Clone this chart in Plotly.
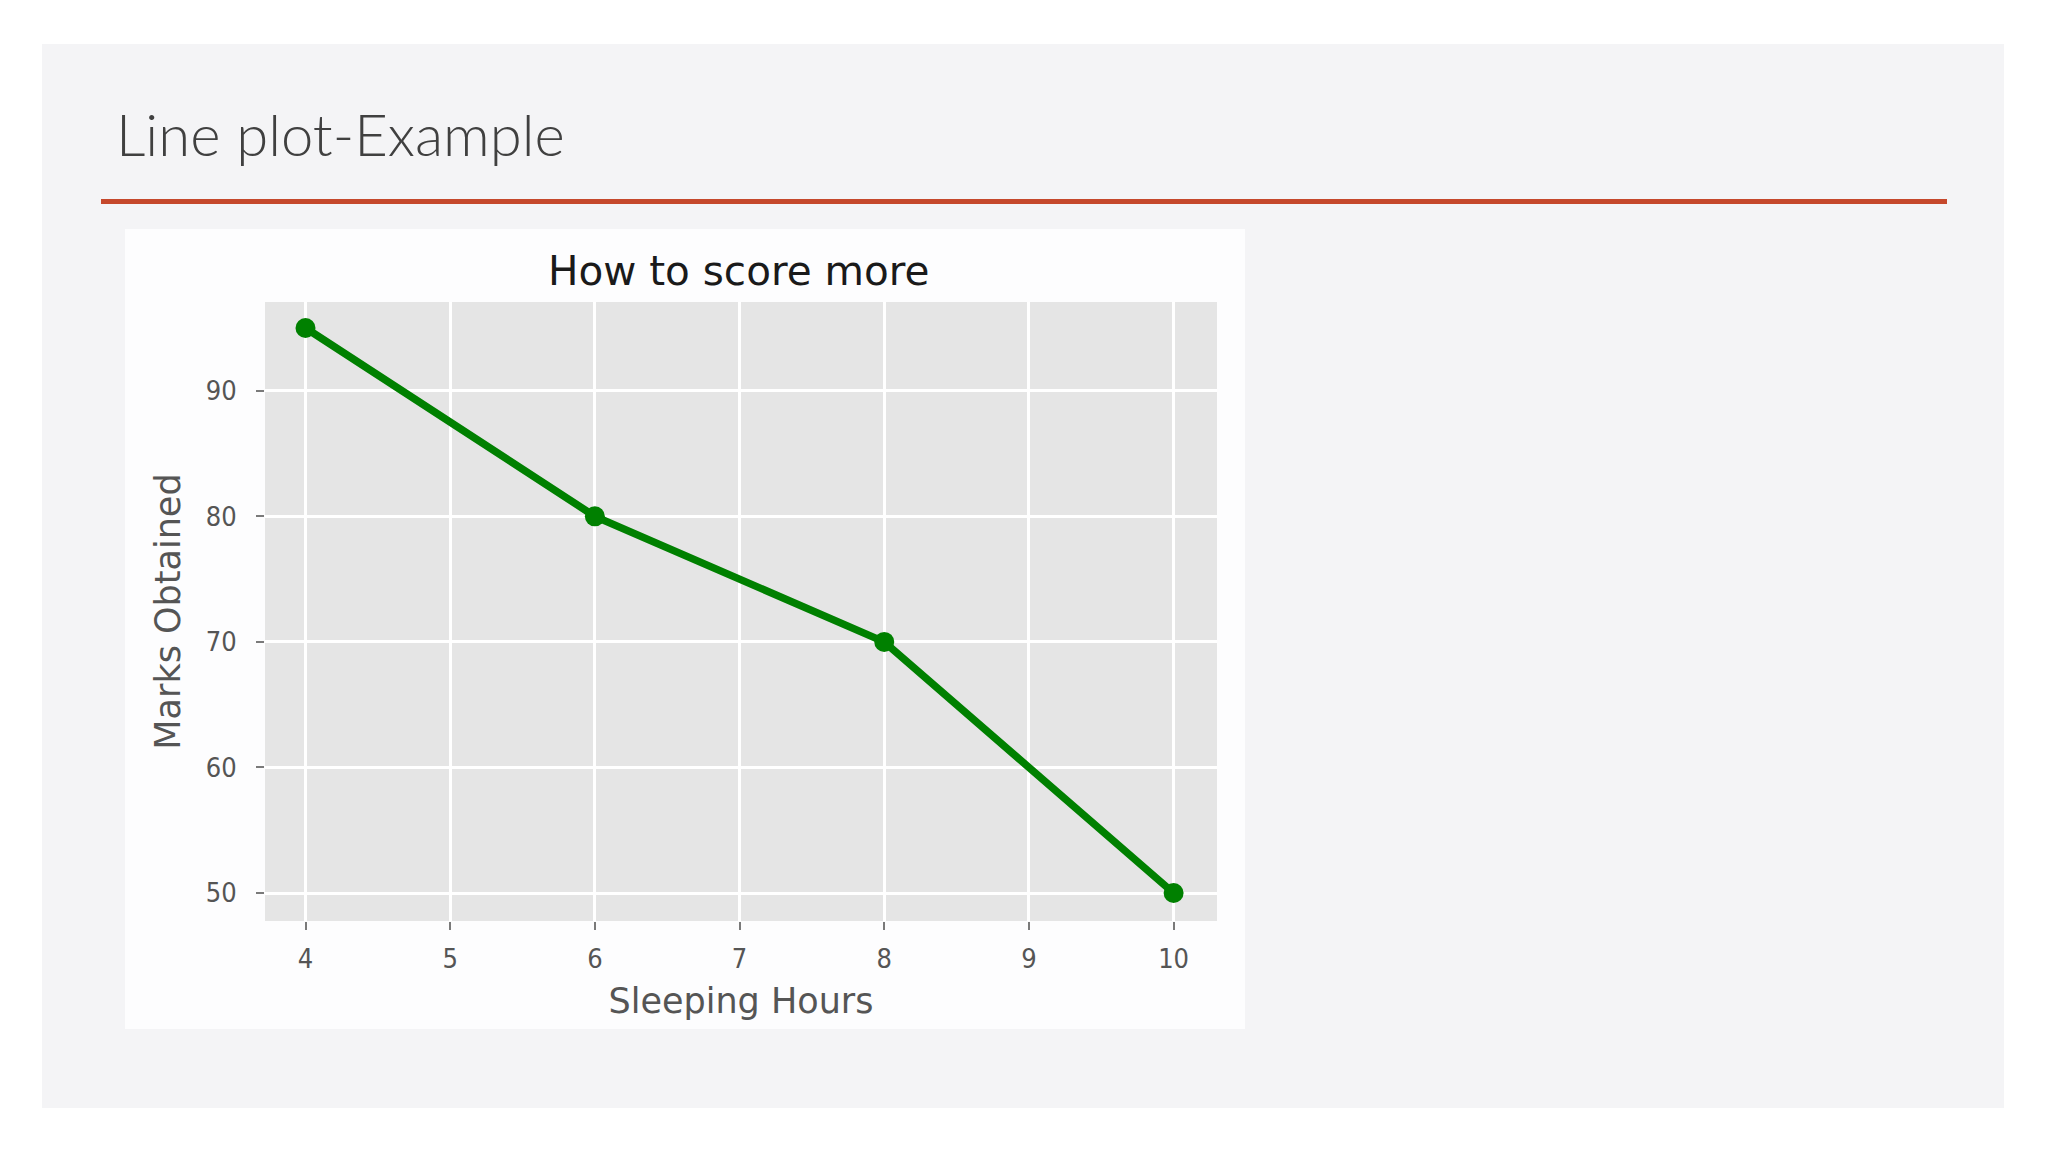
import plotly.graph_objects as go

# ---- data ----
hours = [4, 6, 8, 10]
marks = [95, 80, 70, 50]
x_tick_vals = [4, 5, 6, 7, 8, 9, 10]
y_tick_vals = [50, 60, 70, 80, 90]
slide_title = "Line plot-Example"
chart_title = "How to score more"
x_label = "Sleeping Hours"
y_label = "Marks Obtained"

W, H = 2048, 1152


def px(x):
    return x / W


def py(y):
    return 1 - y / H


fig = go.Figure()
fig.add_trace(
    go.Scatter(
        x=hours,
        y=marks,
        mode="lines+markers",
        line=dict(color="#008000", width=7.5),
        marker=dict(size=20, color="#008000"),
        showlegend=False,
        hoverinfo="x+y",
    )
)

shapes = [
    # slide panel
    dict(type="rect", xref="paper", yref="paper", x0=px(42), x1=px(2004),
         y0=py(1108), y1=py(44), fillcolor="#f4f4f6", line=dict(width=0), layer="below"),
    # accent line
    dict(type="line", xref="paper", yref="paper", x0=px(101), x1=px(1947),
         y0=py(201.5), y1=py(201.5), line=dict(color="#c5482c", width=5), layer="below"),
    # white chart image box
    dict(type="rect", xref="paper", yref="paper", x0=px(125), x1=px(1245),
         y0=py(1029), y1=py(229), fillcolor="#fdfdfe", line=dict(width=0), layer="below"),
    # plot area background
    dict(type="rect", xref="paper", yref="paper", x0=px(265), x1=px(1217),
         y0=py(921), y1=py(302), fillcolor="#e5e5e5", line=dict(width=0), layer="below"),
]

annotations = [
    dict(text=slide_title, xref="paper", yref="paper", x=px(114), y=py(134),
         xanchor="left", yanchor="middle", showarrow=False,
         font=dict(family="Lato, Open Sans, sans-serif", size=58, color="#404040", weight=300)),
    dict(text=chart_title, xref="paper", yref="paper", x=px(738), y=py(270.5),
         xanchor="center", yanchor="middle", showarrow=False,
         font=dict(family="DejaVu Sans", size=40.5, color="#1a1a1a")),
]

tick_font = dict(family="DejaVu Sans Condensed, DejaVu Sans", size=27, color="#555555")
label_font = dict(family="DejaVu Sans", size=35, color="#555555")

fig.update_layout(
    width=W,
    height=H,
    autosize=False,
    margin=dict(l=0, r=0, t=0, b=0),
    paper_bgcolor="#ffffff",
    plot_bgcolor="#e5e5e5",
    shapes=shapes,
    annotations=annotations,
    showlegend=False,
    xaxis=dict(
        domain=[px(265), px(1217)],
        range=[3.72, 10.3],
        tickmode="array",
        tickvals=x_tick_vals,
        ticktext=[str(v) for v in x_tick_vals],
        showgrid=True,
        gridcolor="#ffffff",
        gridwidth=2.5,
        zeroline=False,
        showline=False,
        ticks="outside",
        ticklen=8,
        tickwidth=1.5,
        tickcolor="#7a7a7a",
        ticklabelstandoff=6,
        tickfont=tick_font,
        title=dict(text=x_label, standoff=15, font=label_font),
        fixedrange=True,
    ),
    yaxis=dict(
        domain=[py(921), py(302)],
        range=[47.77, 97.07],
        tickmode="array",
        tickvals=y_tick_vals,
        ticktext=[str(v) for v in y_tick_vals],
        showgrid=True,
        gridcolor="#ffffff",
        gridwidth=2.5,
        zeroline=False,
        showline=False,
        ticks="outside",
        ticklen=8,
        tickwidth=1.5,
        tickcolor="#7a7a7a",
        ticklabelstandoff=14,
        tickfont=tick_font,
        title=dict(text=y_label, standoff=14, font=label_font),
        fixedrange=True,
    ),
)

fig.write_html("out.html", post_script="document.body.style.margin='0';",
               config={"displayModeBar": False})
